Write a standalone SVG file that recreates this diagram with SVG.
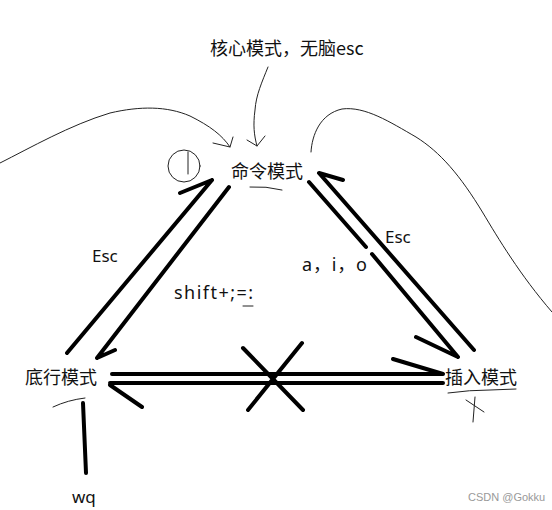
<svg xmlns="http://www.w3.org/2000/svg" width="552" height="510" viewBox="0 0 552 510">
<style>
.t{font-family:"Noto Sans CJK SC","Liberation Sans",sans-serif;fill:#111;}
.c{font-size:18px;}
.l{font-family:"Noto Sans","Noto Sans CJK SC",sans-serif;font-size:17px;}
.m{font-size:18px;}
.thick{stroke:#000;stroke-width:4;fill:none;stroke-linecap:round;stroke-linejoin:round;}
.thin{stroke:#222;stroke-width:1;fill:none;stroke-linecap:round;stroke-linejoin:round;}
</style>
<rect width="552" height="510" fill="#fff"/>
<g id="note">
<text class="t c" x="210" y="55">核心模式，无脑esc</text>
</g>
<g id="command">
<text class="t c" x="231" y="178">命令模式</text>
<path class="thin" d="M250,187 Q266,186 282,190"/>
</g>
<g id="circle-mark">
<circle class="thin" cx="184" cy="166" r="16"/>
<path class="thin" d="M188,152 L188,174"/>
</g>
<g id="bottomline">
<text class="t c" x="25" y="384">底行模式</text>
<path class="thin" d="M53,407 Q68,400 85,398"/>
<text class="t l" x="72" y="503">wq</text>
</g>
<g id="insert">
<text class="t c" x="445" y="384">插入模式</text>
<path class="thin" d="M448,393 Q470,390 490,390 L516,389"/>
<path class="thin" d="M466,400 L484,412 M475,397 L473,422"/>
</g>
<g id="connectors">
<path class="thin" d="M268,67 C262,82 256,95 255,110 C253,125 254,135 257,146 M247,140 L257,146 L265,136"/>
<path class="thin" d="M0,163 C30,148 70,125 110,113 C140,106 167,106 190,116 C210,126 222,135 230,147 M213,143 L230,147 L233,137"/>
<path class="thin" d="M311,152 C312,135 320,114 342,109 C365,106 390,122 416,137 C440,152 460,175 483,213 C498,238 520,275 552,312"/>
<path class="thick" d="M67,353 L212,180 M180,193 L212,180"/>
<path class="thick" d="M229,187 L97,358 M115,350 L97,358"/>
<path class="thick" d="M309,182 L366,247 M372,254 L458,357 M416,337 L458,357"/>
<path class="thick" d="M474,350 L319,173 L343,180"/>
<path class="thick" d="M112,374 L443,374 M393,359 L443,374"/>
<path class="thick" d="M443,383 L110,383 M142,407 L110,385"/>
<path class="thick" d="M83,403 L86,473"/>
<path class="thick" d="M243,348 L303,410 M302,343 L248,410"/>
</g>
<g id="edge-labels">
<text class="t l" x="92" y="262">Esc</text>
<text class="t l m" x="174" y="299" textLength="79" lengthAdjust="spacing">shift+;=:</text>
<path class="thin" d="M243,306 L253,306"/>
<text class="t l m" x="302" y="271" textLength="65" lengthAdjust="spacing">a，i，o</text>
<text class="t l" x="385" y="243">Esc</text>
</g>
<text x="468" y="501" style="font-family:'Liberation Sans',sans-serif;font-size:11px;fill:#999">CSDN @Gokku</text>
</svg>
